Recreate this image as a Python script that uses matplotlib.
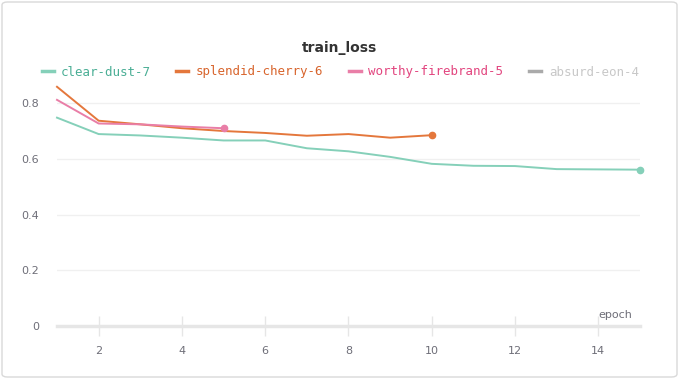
import matplotlib.pyplot as plt
from matplotlib.patches import FancyBboxPatch
from matplotlib.lines import Line2D

# data
epochs_clear = [1, 2, 3, 4, 5, 6, 7, 8, 9, 10, 11, 12, 13, 14, 15]
loss_clear = [0.749, 0.690, 0.685, 0.677, 0.667, 0.667, 0.639, 0.628, 0.608, 0.583,
              0.576, 0.575, 0.564, 0.563, 0.562]
epochs_cherry = [1, 2, 3, 4, 5, 6, 7, 8, 9, 10]
loss_cherry = [0.860, 0.738, 0.725, 0.711, 0.701, 0.694, 0.684, 0.690, 0.677, 0.686]
epochs_fire = [1, 2, 3, 4, 5]
loss_fire = [0.813, 0.728, 0.725, 0.717, 0.711]

run_names = ['clear-dust-7', 'splendid-cherry-6', 'worthy-firebrand-5', 'absurd-eon-4']
line_colors = ['#85d0b9', '#e4773c', '#e97ea7', '#aaaaaa']
text_colors = ['#4aae95', '#d8642c', '#e2457f', '#c8c8c8']

fig = plt.figure(figsize=(6.79, 3.79), dpi=100)
W, H = 679, 379

# panel border
fig.patches.append(FancyBboxPatch((2 / W, 2 / H), 1 - 4 / W, 1 - 4 / H,
                                  boxstyle='round,pad=0,rounding_size=0.008',
                                  transform=fig.transFigure, fill=False,
                                  edgecolor='#d9d9d9', lw=1))

ax = fig.add_axes([57 / W, 1 - 326 / H, (640 - 57) / W, 242 / H])
ax.set_xlim(1, 15)
ax.set_ylim(0, 0.87)

for xs, ys, c in [(epochs_clear, loss_clear, line_colors[0]),
                  (epochs_cherry, loss_cherry, line_colors[1]),
                  (epochs_fire, loss_fire, line_colors[2])]:
    ax.plot(xs, ys, color=c, lw=1.4, zorder=3, clip_on=False)
    ax.plot(xs[-1], ys[-1], 'o', color=c, ms=4.5, zorder=4, clip_on=False)

ax.set_yticks([0, 0.2, 0.4, 0.6, 0.8])
ax.set_yticklabels(['0', '0.2', '0.4', '0.6', '0.8'])
ax.set_xticks([2, 4, 6, 8, 10, 12, 14])
ax.grid(axis='y', color='#f0f0f0', lw=1)
ax.set_axisbelow(True)
for s in ['top', 'right', 'left']:
    ax.spines[s].set_visible(False)
ax.spines['bottom'].set_color('#e6e6e6')
ax.spines['bottom'].set_linewidth(2.5)
ax.tick_params(axis='y', length=0, pad=13, labelsize=8, labelcolor='#6e6e78')
ax.tick_params(axis='x', direction='inout', length=14, color='#e6e6e6', width=1,
               pad=7.5, labelsize=8, labelcolor='#6e6e78')

fig.text(615 / W, 1 - 315 / H, 'epoch', ha='center', va='center', fontsize=8,
         color='#6e6e78')

fig.text(340 / W, 1 - 48 / H, 'train_loss', ha='center', va='center',
         fontsize=10, fontweight='bold', color='#333333')

# legend
handle_x = [42, 176, 349, 529]
text_x = [61, 196, 368, 549]
ly = 1 - 72 / H
for hx, tx, name, lc, tc in zip(handle_x, text_x, run_names, line_colors, text_colors):
    fig.add_artist(Line2D([hx / W, (hx + 12) / W], [ly + 1 / H, ly + 1 / H],
                          color=lc, lw=2.5, transform=fig.transFigure))
    fig.text(tx / W, ly, name, ha='left', va='center', fontsize=9,
             family='DejaVu Sans Mono', color=tc)

fig.savefig('out.png', dpi=100)
